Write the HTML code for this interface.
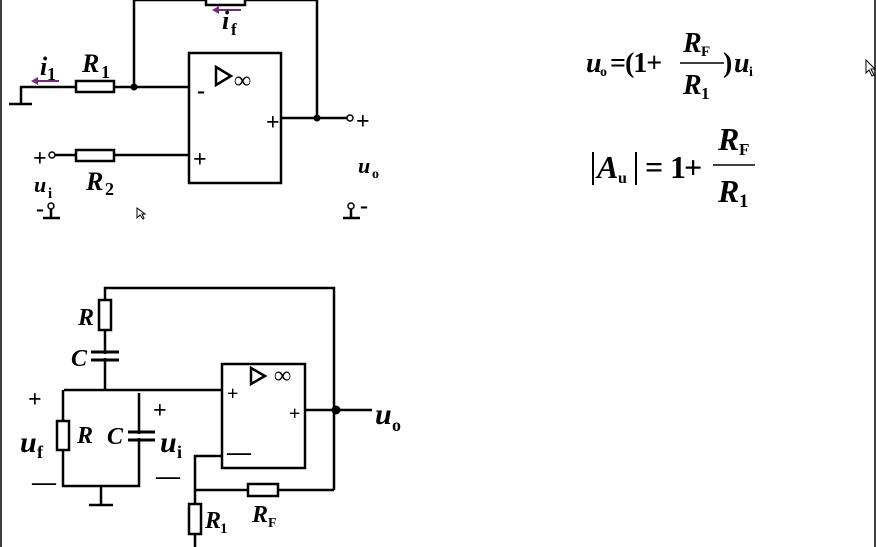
<!DOCTYPE html>
<html><head><meta charset="utf-8"><style>
html,body{margin:0;padding:0;background:#fff;width:876px;height:547px;overflow:hidden}
svg{display:block}
text{font-family:"Liberation Serif",serif;font-weight:bold;fill:#000}
.i{font-style:italic}
</style></head><body>
<svg width="876" height="547" viewBox="0 0 876 547" xmlns="http://www.w3.org/2000/svg">
<g stroke="#000" stroke-width="2.5" fill="none">
<line x1="1" y1="0" x2="1" y2="547" stroke-width="1.5"/>
<line x1="875" y1="0" x2="875" y2="547" stroke-width="1.5"/>
<!-- top circuit -->
<polyline points="134,87 134,0 317,0 317,118"/>
<rect x="206" y="-6" width="39" height="11" fill="#fff"/>
<line x1="9" y1="104" x2="32" y2="104"/>
<polyline points="21,104 21,87 76,87"/>
<rect x="76" y="81" width="38" height="11"/>
<line x1="114" y1="87" x2="189" y2="87"/>
<rect x="189" y="53" width="92" height="130"/>
<line x1="281" y1="118" x2="347" y2="118"/>
<circle cx="350" cy="118" r="3" stroke-width="1.5" fill="#fff"/>
<circle cx="52" cy="155" r="3" stroke-width="1.5" fill="#fff"/>
<line x1="55" y1="155" x2="76" y2="155"/>
<rect x="76" y="150" width="38" height="11"/>
<line x1="114" y1="155" x2="189" y2="155"/>
<polygon points="216,67 231,76 216,85"/>
<circle cx="51" cy="206" r="3" stroke-width="1.5" fill="#fff"/>
<line x1="51" y1="209" x2="51" y2="218"/><line x1="43" y1="218" x2="60" y2="218"/>
<circle cx="351" cy="206" r="3" stroke-width="1.5" fill="#fff"/>
<line x1="351" y1="209" x2="351" y2="218"/><line x1="343" y1="218" x2="360" y2="218"/>
<!-- bottom circuit -->
<polyline points="105,390 105,288 334,288 334,490"/>
<rect x="99" y="300" width="12" height="30" fill="#fff"/>
<line x1="91" y1="352" x2="119" y2="352" stroke-width="3"/>
<line x1="91" y1="360" x2="119" y2="360" stroke-width="3"/>
<rect x="100" y="354" width="10" height="4" fill="#fff" stroke="none"/>
<line x1="64" y1="390" x2="222" y2="390"/>
<rect x="222" y="364" width="83" height="104"/>
<polygon points="251,368 265,376 251,384"/>
<line x1="305" y1="410" x2="372" y2="410"/>
<polyline points="63,390 63,486 139,486 139,393"/>
<rect x="57" y="421" width="12" height="29" fill="#fff"/>
<line x1="128" y1="432" x2="155" y2="432" stroke-width="3"/>
<line x1="128" y1="440" x2="155" y2="440" stroke-width="3"/>
<rect x="134" y="434" width="10" height="4" fill="#fff" stroke="none"/>
<line x1="101" y1="486" x2="101" y2="505"/><line x1="89" y1="505" x2="113" y2="505"/>
<polyline points="222,456 195,456 195,547"/>
<line x1="195" y1="490" x2="334" y2="490"/>
<rect x="248" y="484" width="30" height="12" fill="#fff"/>
<rect x="189" y="504" width="12" height="30" fill="#fff"/>
<!-- formula bars -->
<line x1="593" y1="152" x2="593" y2="185" stroke-width="2"/>
<line x1="636" y1="152" x2="636" y2="185" stroke-width="2"/>
<line x1="680" y1="63" x2="724" y2="63" stroke-width="1.5"/>
<line x1="713" y1="165" x2="755" y2="165" stroke-width="1.5"/>
</g>
<g fill="#000">
<circle cx="134" cy="87" r="3.5"/><circle cx="317" cy="118" r="3.5"/><circle cx="336" cy="410" r="4.5"/>
</g>
<g stroke="#7a2a7a" stroke-width="2" fill="#7a2a7a">
<line x1="241" y1="10" x2="218" y2="10"/><polygon points="212,10 219,6 219,14" stroke="none"/>
<line x1="59" y1="81" x2="37" y2="81"/><polygon points="31,81 38,77 38,85" stroke="none"/>
</g>
<g font-size="26">
<text x="222" y="29" class="i">i</text><text x="231" y="35" font-size="17" font-weight="normal">f</text>
<text x="40" y="75" class="i">i</text><text x="47" y="80" font-size="18">1</text>
<text x="82" y="72" class="i">R</text><text x="101" y="78" font-size="18">1</text>
<text x="86" y="190" class="i">R</text><text x="105" y="195" font-size="18">2</text>
<text x="34" y="192" class="i" font-size="22">u</text><text x="48" y="198" font-size="15">i</text>
<text x="358" y="173" class="i" font-size="22">u</text><text x="372" y="178" font-size="14">o</text>
</g>
<g font-size="24" font-weight="normal">
<text x="234" y="88">∞</text>
<text x="197" y="98" font-weight="bold">-</text>
<text x="193" y="167">+</text>
<text x="266" y="130">+</text>
<text x="356" y="129">+</text>
<text x="33" y="166">+</text>
<text x="36" y="216" font-weight="bold">-</text>
<text x="360" y="213" font-weight="bold">-</text>
<text x="274" y="383">∞</text>
<text x="227" y="400" font-size="20">+</text>
<text x="289" y="420" font-size="20">+</text>
<text x="227" y="460">—</text>
<text x="28" y="407">+</text>
<text x="153" y="418">+</text>
<text x="32" y="490">—</text>
<text x="156" y="484">—</text>
</g>
<g font-size="24">
<text x="78" y="325" class="i">R</text>
<text x="71" y="366" class="i">C</text>
<text x="77" y="443" class="i">R</text>
<text x="107" y="444" class="i">C</text>
<text x="20" y="452" class="i" font-size="30">u</text><text x="37" y="458" font-size="18">f</text>
<text x="160" y="452" class="i" font-size="30">u</text><text x="177" y="458" font-size="18">i</text>
<text x="375" y="424" class="i" font-size="30">u</text><text x="392" y="431" font-size="18">o</text>
<text x="205" y="528" class="i">R</text><text x="220" y="533" font-size="15">1</text>
<text x="252" y="522" class="i">R</text><text x="268" y="527" font-size="14">F</text>
</g>
<!-- formulas -->
<g font-size="28">
<text x="586" y="72" class="i">u</text><text x="600" y="76" font-size="14">o</text>
<text x="610" y="72" letter-spacing="-1">=(1+</text>
<text x="683" y="52" class="i">R</text><text x="701" y="56" font-size="15">F</text>
<text x="683" y="94" class="i">R</text><text x="701" y="99" font-size="17">1</text>
<text x="723" y="72">)</text><text x="734" y="72" class="i">u</text><text x="749" y="76" font-size="14">i</text>
<text x="597" y="178" class="i" font-size="32">A</text><text x="618" y="183" font-size="16">u</text>
<text x="645" y="178" font-size="32">=</text>
<text x="670" y="178" font-size="32" letter-spacing="-2">1+</text>
<text x="718" y="150" class="i" font-size="32">R</text><text x="739" y="155" font-size="17">F</text>
<text x="718" y="202" class="i" font-size="32">R</text><text x="739" y="207" font-size="19">1</text>
</g>
<g stroke="#000" stroke-width="1" fill="#fff">
<polygon points="137,208 137,218 140,215 143,219 144,218 142,214 145,214"/>
<polygon points="866,60 866,73 869,70 872,76 874,75 871,69 875,69"/>
</g>
</svg>
</body></html>
